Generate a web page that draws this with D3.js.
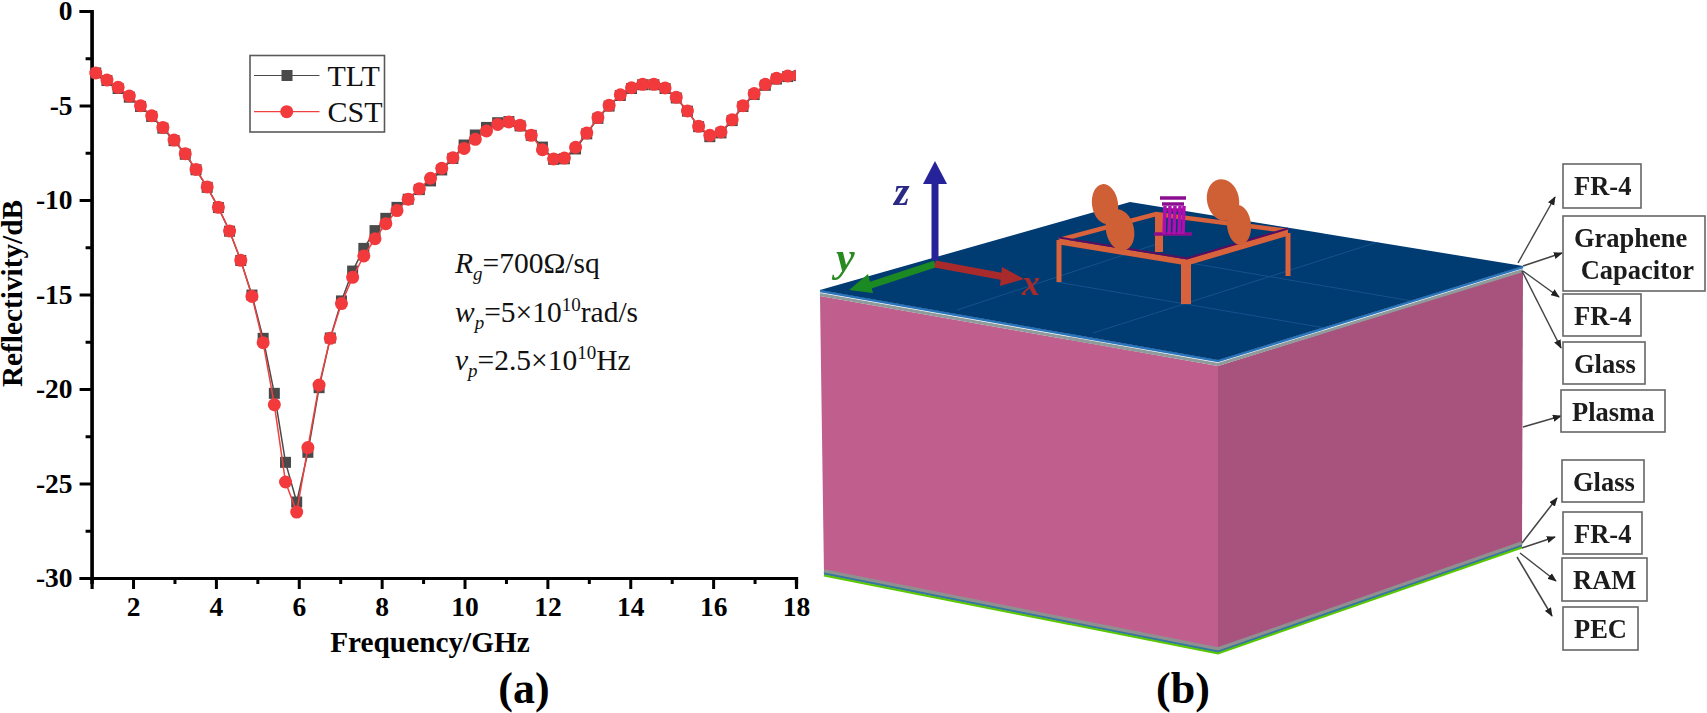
<!DOCTYPE html>
<html>
<head>
<meta charset="utf-8">
<script src="https://d3js.org/d3.v7.min.js"></script>
<style>
html, body { margin: 0; padding: 0; background: #fff; overflow: hidden; }
text { font-family: "Liberation Serif", serif; }
</style>
</head>
<body>
<div id="svg1"></div>
<script>
// chart values
var freq = [1.10,1.37,1.64,1.91,2.18,2.45,2.72,2.99,3.26,3.52,3.79,4.06,4.33,4.60,4.87,5.14,
    5.41,5.68,5.95,6.22,6.49,6.76,7.03,7.30,7.57,7.84,8.10,8.37,8.64,8.91,9.18,9.45,
    9.72,9.99,10.26,10.53,10.80,11.07,11.34,11.61,11.88,12.15,12.41,12.68,12.95,13.22,13.49,13.76,
    14.03,14.30,14.57,14.84,15.11,15.38,15.65,15.92,16.19,16.46,16.72,16.99,17.26,17.53,17.80,18.07];
var tlt = [-3.28,-3.68,-4.10,-4.56,-5.05,-5.58,-6.20,-6.86,-7.58,-8.40,-9.33,-10.40,-11.65,-13.20,-15.03,-17.32,
    -20.23,-23.88,-25.98,-23.35,-19.93,-17.30,-15.34,-13.76,-12.56,-11.62,-10.97,-10.39,-9.96,-9.45,
    -8.99,-8.41,-7.80,-7.09,-6.56,-6.16,-5.91,-5.85,-6.08,-6.58,-7.20,-7.85,-7.82,-7.30,-6.50,-5.68,-5.03,
    -4.47,-4.10,-3.90,-3.90,-4.10,-4.60,-5.30,-6.12,-6.65,-6.45,-5.80,-5.05,-4.42,-3.93,-3.60,-3.47,-3.42];
var cst = [-3.28,-3.65,-4.04,-4.50,-5.01,-5.54,-6.16,-6.83,-7.55,-8.38,-9.31,-10.39,-11.64,-13.19,-15.10,-17.55,
    -20.83,-24.92,-26.51,-23.10,-19.79,-17.32,-15.48,-14.09,-12.96,-12.05,-11.25,-10.56,-9.96,-9.40,
    -8.85,-8.32,-7.76,-7.27,-6.79,-6.35,-6.00,-5.87,-6.05,-6.58,-7.34,-7.83,-7.78,-7.21,-6.46,-5.64,-4.99,
    -4.43,-4.06,-3.88,-3.88,-4.07,-4.57,-5.29,-6.10,-6.58,-6.40,-5.75,-5.01,-4.37,-3.88,-3.56,-3.44,-3.40];
var xTicks = [2,4,6,8,10,12,14,16,18];
var xMinor = [1,3,5,7,9,11,13,15,17];
var yTicks = [0,-5,-10,-15,-20,-25,-30];
var yMinor = [-2.5,-7.5,-12.5,-17.5,-22.5,-27.5];
var seriesNames = ["TLT","CST"];

// panel (b) drawing, in page pixels
var topFace = [[820,290],[1130,202],[1523,266],[1218,360]];
var leftFace = [[820,296],[1218,366],[1218,653],[824,575]];
var rightFace = [[1218,366],[1523,271],[1522,547],[1218,653]];
var labelBoxes = [
    {lines:["FR-4"], x:1563, y:164, w:78, h:44},
    {lines:["Graphene"," Capacitor"], x:1563, y:216, w:142, h:75},
    {lines:["FR-4"], x:1563, y:294, w:78, h:42},
    {lines:["Glass"], x:1563, y:342, w:82, h:42},
    {lines:["Plasma"], x:1561, y:390, w:104, h:42},
    {lines:["Glass"], x:1562, y:460, w:82, h:42},
    {lines:["FR-4"], x:1563, y:512, w:79, h:42},
    {lines:["RAM"], x:1562, y:558, w:85, h:43},
    {lines:["PEC"], x:1563, y:607, w:75, h:43}
];
var pointers = [
    [1518,263,1555,197],[1523,266,1562,253],[1523,271,1559,297],[1522,271,1561,348],[1523,427,1561,416],
    [1522,543,1557,498],[1522,548,1555,537],[1520,553,1556,581],[1517,557,1552,616]
];

// set the dimensions and margins of the graph
var margin = {top: 11, left: 91.6},
    width = 704.4,
    height = 567;

var root = d3.select("#svg1")
    .append("svg")
    .attr("width", 1707)
    .attr("height", 713)
    .style("display", "block");

var poly = d3.line().curve(d3.curveLinearClosed);

var defs = root.append("defs");
defs.append("clipPath").attr("id", "plotClip")
    .append("rect").attr("x", -20).attr("y", -10).attr("width", width + 20).attr("height", height + 20);
defs.append("clipPath").attr("id", "topClip")
    .append("path").attr("d", poly(topFace));
defs.append("filter").attr("id", "soft")
    .append("feGaussianBlur").attr("stdDeviation", 0.7);
defs.append("marker").attr("id", "head")
    .attr("viewBox", "0 0 10 8").attr("refX", 9).attr("refY", 4)
    .attr("markerWidth", 6).attr("markerHeight", 5).attr("orient", "auto")
    .append("path").attr("d", "M0,0L10,4L0,8Z").attr("fill", "#222");

var svg = root.append("g")
    .attr("transform", "translate(" + margin.left + "," + margin.top + ")");

// Add X axis
var x = d3.scaleLinear().domain([1, 18]).range([0, width]);
var y = d3.scaleLinear().domain([-30, 0]).range([height, 0]);

var xAxisMinor = svg.append("g")
    .attr("transform", "translate(0," + height + ")")
    .call(d3.axisBottom(x).tickValues(xMinor).tickSize(6).tickFormat(""));
var xAxis = svg.append("g")
    .attr("transform", "translate(0," + height + ")")
    .call(d3.axisBottom(x).tickValues(xTicks).tickSize(11).tickPadding(6).tickFormat(function(d) { return String(d); }));

// Add Y axis
var yAxisMinor = svg.append("g")
    .call(d3.axisLeft(y).tickValues(yMinor).tickSize(6).tickFormat(""));
var yAxis = svg.append("g")
    .call(d3.axisLeft(y).tickValues(yTicks).tickSize(12).tickPadding(7).tickFormat(function(d) { return String(d); }));

svg.selectAll(".domain").attr("stroke", "#000").attr("stroke-width", 3.2);
svg.selectAll(".tick line").attr("stroke", "#000").attr("stroke-width", 3);
svg.selectAll(".tick text")
    .attr("fill", "#000")
    .style("font-family", '"Liberation Serif", serif')
    .style("font-weight", "bold")
    .style("font-size", "27.5px");
xAxis.selectAll(".tick text").attr("dy", "0.78em");

// axis titles
root.append("text")
    .attr("x", 430).attr("y", 652)
    .attr("text-anchor", "middle")
    .style("font-weight", "bold").style("font-size", "29.3px")
    .text("Frequency/GHz");
root.append("text")
    .attr("transform", "translate(21.5,293.5) rotate(-90)")
    .attr("text-anchor", "middle")
    .style("font-weight", "bold").style("font-size", "29.3px")
    .text("Reflectivity/dB");

// lines and markers
var makeLine = function(vals) {
    return d3.line()
        .x(function(d, i) { return x(freq[i]); })
        .y(function(d) { return y(d); })(vals);
};
var plot = svg.append("g").attr("clip-path", "url(#plotClip)");

plot.append("path").attr("d", makeLine(tlt))
    .attr("fill", "none").attr("stroke", "#4a4a4a").attr("stroke-width", 1.5);
plot.selectAll("rect.tlt").data(tlt).enter().append("rect")
    .attr("class", "tlt")
    .attr("x", function(d, i) { return x(freq[i]) - 5.5; })
    .attr("y", function(d) { return y(d) - 5.5; })
    .attr("width", 11).attr("height", 11)
    .attr("fill", "#4a4a4a");

plot.append("path").attr("d", makeLine(cst))
    .attr("fill", "none").attr("stroke", "#f04040").attr("stroke-width", 1.5);
plot.selectAll("circle.cst").data(cst).enter().append("circle")
    .attr("class", "cst")
    .attr("cx", function(d, i) { return x(freq[i]); })
    .attr("cy", function(d) { return y(d); })
    .attr("r", 6.5)
    .attr("fill", "#f23a3d");

// legend
var legend = root.append("g");
legend.append("rect")
    .attr("x", 250).attr("y", 55.5).attr("width", 134.5).attr("height", 76.5)
    .attr("fill", "#fff").attr("stroke", "#5a5a5a").attr("stroke-width", 1.6);
var legendRows = legend.selectAll("g.row").data(seriesNames).enter().append("g")
    .attr("class", "row")
    .attr("transform", function(d, i) { return "translate(0," + (75.5 + i * 36.2) + ")"; });
legendRows.append("line")
    .attr("x1", 254).attr("x2", 319.5).attr("y1", 0).attr("y2", 0)
    .attr("stroke", function(d, i) { return i ? "#f04040" : "#4a4a4a"; }).attr("stroke-width", 1.2);
legendRows.filter(function(d, i) { return i === 0; }).append("rect")
    .attr("x", 281.5).attr("y", -5.5).attr("width", 11).attr("height", 11).attr("fill", "#4a4a4a");
legendRows.filter(function(d, i) { return i === 1; }).append("circle")
    .attr("cx", 286.7).attr("cy", 0).attr("r", 6.5).attr("fill", "#f23a3d");
legendRows.append("text")
    .attr("x", 327.5).attr("y", 10)
    .style("font-size", "30px").attr("fill", "#111")
    .text(function(d) { return d; });

// parameter notes
var addNote = function(yPos, sym, sub, parts) {
    var t = root.append("text").attr("x", 455).attr("y", yPos).style("font-size", "29.5px").attr("fill", "#111");
    t.append("tspan").style("font-style", "italic").text(sym);
    t.append("tspan").style("font-style", "italic").style("font-size", "19px").attr("dy", 7).text(sub);
    var shift = -7;
    parts.forEach(function(p) {
        var s = t.append("tspan").attr("dy", shift + (p.sup ? -11 : 0)).text(p.text);
        if (p.sup) { s.style("font-size", "19px"); shift = 11; } else { shift = 0; }
    });
};
addNote(273, "R", "g", [{text: "=700\u03a9/sq"}]);
addNote(321.5, "w", "p", [{text: "=5\u00d710"}, {text: "10", sup: true}, {text: "rad/s"}]);
addNote(370, "v", "p", [{text: "=2.5\u00d710"}, {text: "10", sup: true}, {text: "Hz"}]);

// panel labels
root.append("text").attr("x", 524).attr("y", 703).attr("text-anchor", "middle")
    .style("font-weight", "bold").style("font-size", "44px").text("(a)");
root.append("text").attr("x", 1183).attr("y", 703).attr("text-anchor", "middle")
    .style("font-weight", "bold").style("font-size", "44px").text("(b)");

// panel (b): layered block
var block = root.append("g").attr("filter", "url(#soft)");
block.append("path").attr("d", poly(leftFace)).attr("fill", "#c05e8e");
block.append("path").attr("d", poly(rightFace)).attr("fill", "#a8527e");

// thin layers along the top and bottom edges
var edgeLayers = [
    {pts: [[820,290],[1218,360],[1523,266]], color: "#2a74bc", w: 2.5, off: 1},
    {pts: [[820,290],[1218,360],[1523,266]], color: "#8f9a9a", w: 3, off: 4.5},
    {pts: [[824,571],[1218,649],[1522,543]], color: "#8f9090", w: 3.5, off: 0},
    {pts: [[824,571],[1218,649],[1522,543]], color: "#2f7aa0", w: 2, off: 2.6},
    {pts: [[824,571],[1218,649],[1522,543]], color: "#58c800", w: 2, off: 4.5}
];
edgeLayers.forEach(function(l) {
    block.append("path")
        .attr("d", d3.line()(l.pts.map(function(p) { return [p[0], p[1] + l.off]; })))
        .attr("fill", "none").attr("stroke", l.color).attr("stroke-width", l.w);
});
block.append("path").attr("d", poly(topFace)).attr("fill", "#023a72");

// faint grid on the top face, kept inside the face
var gridLines = [[[957,310],[1160,243]],[[1093,333],[1400,235]],[[1057,282],[1500,358]],[[1190,263],[1523,320]]];
block.append("g").attr("clip-path", "url(#topClip)")
    .selectAll("path").data(gridLines).enter().append("path")
    .attr("d", function(d) { return d3.line()(d); })
    .attr("stroke", "#16568f").attr("stroke-width", 0.9).attr("fill", "none");

// antenna frame
var orange = "#d8623a";
var legs = [[1059,240,1059,282],[1186,261,1186,304],[1288,233,1288,276],[1159,215,1159,252]];
var legWidths = [5, 10, 5, 8];
legs.forEach(function(l, i) {
    block.append("line").attr("x1", l[0]).attr("y1", l[1]).attr("x2", l[2]).attr("y2", l[3])
        .attr("stroke", orange).attr("stroke-width", legWidths[i]);
});
var frameBack = [[1059,240],[1156,214],[1288,231]];
var frameFront = [[1059,240],[1187,261],[1288,231]];
block.append("path").attr("d", d3.line()(frameBack)).attr("fill", "none").attr("stroke", orange).attr("stroke-width", 4.5);
block.append("path").attr("d", d3.line()(frameFront.map(function(p) { return [p[0], p[1] + 1.5]; })))
    .attr("fill", "none").attr("stroke", orange).attr("stroke-width", 6);
block.append("path").attr("d", d3.line()(frameFront.map(function(p) { return [p[0], p[1] - 2.5]; })))
    .attr("fill", "none").attr("stroke", "#5a1060").attr("stroke-width", 2);

var discs = [
    {cx:1105, cy:204, rx:13, ry:20, rot:-8},
    {cx:1120, cy:230, rx:14, ry:21, rot:-12},
    {cx:1223, cy:200, rx:16, ry:21, rot:-12},
    {cx:1239, cy:225, rx:12, ry:20, rot:-5}
];
block.selectAll("ellipse.disc").data(discs).enter().append("ellipse")
    .attr("class", "disc")
    .attr("cx", function(d) { return d.cx; })
    .attr("cy", function(d) { return d.cy; })
    .attr("rx", function(d) { return d.rx; })
    .attr("ry", function(d) { return d.ry; })
    .attr("transform", function(d) { return "rotate(" + d.rot + "," + d.cx + "," + d.cy + ")"; })
    .attr("fill", "#cf5f35");

// small purple feed
var feed = [[1160,198,1186,198],[1162,204,1184,204],[1163,210,1183,210],[1154,234,1192,234]];
feed.forEach(function(l) {
    block.append("line").attr("x1", l[0]).attr("y1", l[1]).attr("x2", l[2]).attr("y2", l[3])
        .attr("stroke", "#8a1090").attr("stroke-width", 3.5);
});
[1165,1170,1175,1180,1184].forEach(function(px) {
    block.append("line").attr("x1", px).attr("y1", 206).attr("x2", px - 1).attr("y2", 234)
        .attr("stroke", "#b010b0").attr("stroke-width", 3.5);
});

// xyz arrows
var arrows = [
    {from:[935,260], to:[935,184], color:"#28209a", head:[[935,161],[923,184],[947,184]]},
    {from:[935,264], to:[865,287], color:"#1f8a24", head:[[849,290],[868,274],[873,293]]},
    {from:[935,264], to:[1005,277], color:"#a82c2c", head:[[1024,279],[1002,267],[1000,286]]}
];
arrows.forEach(function(a) {
    block.append("path").attr("d", d3.line()([a.from, a.to])).attr("stroke", a.color).attr("stroke-width", 7).attr("fill", "none");
    block.append("path").attr("d", poly(a.head)).attr("fill", a.color);
});
var axisNames = [
    {t:"z", x:894, y:205, c:"#2b2a86", s:40},
    {t:"y", x:836, y:271, c:"#2a8a24", s:42},
    {t:"x", x:1022, y:295, c:"#a82c2c", s:36}
];
axisNames.forEach(function(a) {
    block.append("text").attr("x", a.x).attr("y", a.y)
        .style("font-style", "italic").style("font-weight", "bold").style("font-size", a.s + "px")
        .attr("fill", a.c).text(a.t);
});

// layer labels and pointers
var labels = root.append("g");
pointers.forEach(function(p) {
    labels.append("line").attr("x1", p[0]).attr("y1", p[1]).attr("x2", p[2]).attr("y2", p[3])
        .attr("stroke", "#444").attr("stroke-width", 1.5).attr("marker-end", "url(#head)");
});
labelBoxes.forEach(function(b) {
    labels.append("rect").attr("x", b.x).attr("y", b.y).attr("width", b.w).attr("height", b.h)
        .attr("fill", "#fff").attr("stroke", "#666").attr("stroke-width", 1.6);
    b.lines.forEach(function(line, i) {
        labels.append("text")
            .attr("x", b.x + 11).attr("y", b.y + 31 + i * 31.5)
            .style("white-space", "pre")
            .style("font-weight", "bold").style("font-size", "26.5px").attr("fill", "#1c1c1c")
            .text(line);
    });
});
</script>
</body>
</html>
